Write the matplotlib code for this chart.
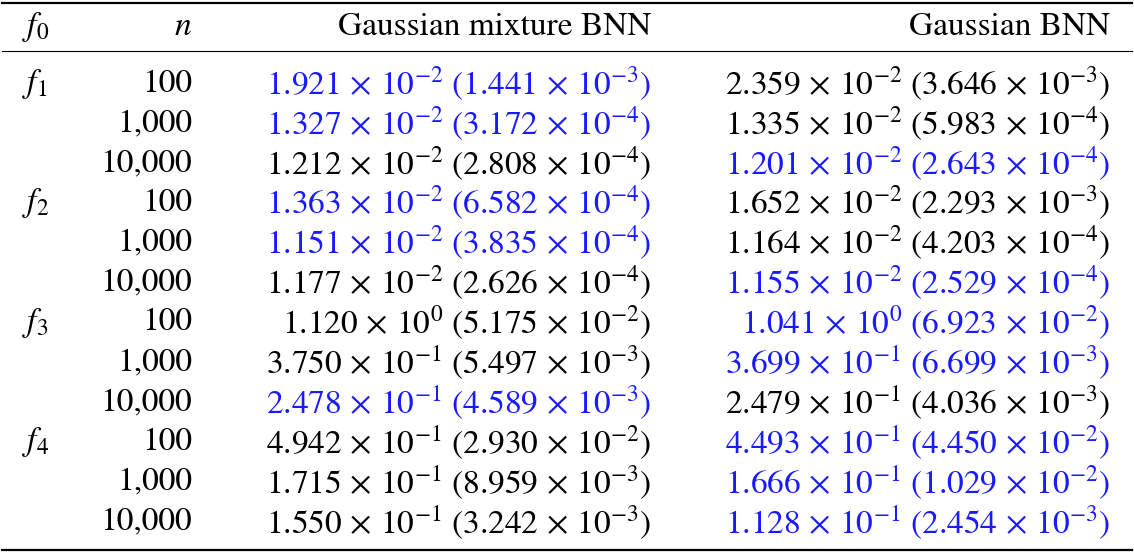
import matplotlib
matplotlib.use("Agg")
import matplotlib.pyplot as plt

plt.rcParams['mathtext.fontset'] = 'stix'
plt.rcParams['font.family'] = ['STIXGeneral', 'DejaVu Serif']

funcs = ['$f_1$', '$f_2$', '$f_3$', '$f_4$']
sizes = ['100', '1,000', '10,000']
mix_mean = [1.921e-2, 1.327e-2, 1.212e-2, 1.363e-2, 1.151e-2, 1.177e-2,
            1.120e0, 3.750e-1, 2.478e-1, 4.942e-1, 1.715e-1, 1.550e-1]
mix_sd = [1.441e-3, 3.172e-4, 2.808e-4, 6.582e-4, 3.835e-4, 2.626e-4,
          5.175e-2, 5.497e-3, 4.589e-3, 2.930e-2, 8.959e-3, 3.242e-3]
gau_mean = [2.359e-2, 1.335e-2, 1.201e-2, 1.652e-2, 1.164e-2, 1.155e-2,
            1.041e0, 3.699e-1, 2.479e-1, 4.493e-1, 1.666e-1, 1.128e-1]
gau_sd = [3.646e-3, 5.983e-4, 2.643e-4, 2.293e-3, 4.203e-4, 2.529e-4,
          6.923e-2, 6.699e-3, 4.036e-3, 4.450e-2, 1.029e-2, 2.454e-3]


def sci(v):
    m, e = ('%.3e' % v).split('e')
    return r'%s\,\times\,10^{%d}' % (m, int(e))


def cell(m, s):
    return r'$%s\ (%s)$' % (sci(m), sci(s))


W, H = 1134, 554
fig = plt.figure(figsize=(W / 100, H / 100), dpi=100)
ax = fig.add_axes([0, 0, 1, 1])
ax.set_xlim(0, W)
ax.set_ylim(H, 0)
ax.axis('off')

fs = 24
blue = '#1a1aff'
ax.plot([2, 1132], [3, 3], color='k', lw=1.6)
ax.plot([2, 1132], [51, 51], color='k', lw=0.8)
ax.plot([2, 1132], [550, 550], color='k', lw=1.6)

hy = 27
ax.text(22, hy, '$f_0$', fontsize=fs, ha='left', va='center')
ax.text(192, hy, '$n$', fontsize=fs, ha='right', va='center')
ax.text(651, hy, 'Gaussian mixture BNN', fontsize=fs, ha='right', va='center')
ax.text(1110, hy, 'Gaussian BNN', fontsize=fs, ha='right', va='center')

y0, dy = 84, 39.8
for i in range(len(mix_mean)):
    y = y0 + i * dy
    if i % 3 == 0:
        ax.text(22, y, funcs[i // 3], fontsize=fs, ha='left', va='center')
    ax.text(192, y, sizes[i % 3], fontsize=fs, ha='right', va='center')
    mix_best = mix_mean[i] < gau_mean[i]
    ax.text(651, y, cell(mix_mean[i], mix_sd[i]), fontsize=fs, ha='right',
            va='center', color=blue if mix_best else 'k')
    ax.text(1110, y, cell(gau_mean[i], gau_sd[i]), fontsize=fs, ha='right',
            va='center', color='k' if mix_best else blue)

fig.savefig('out.png', dpi=100)
